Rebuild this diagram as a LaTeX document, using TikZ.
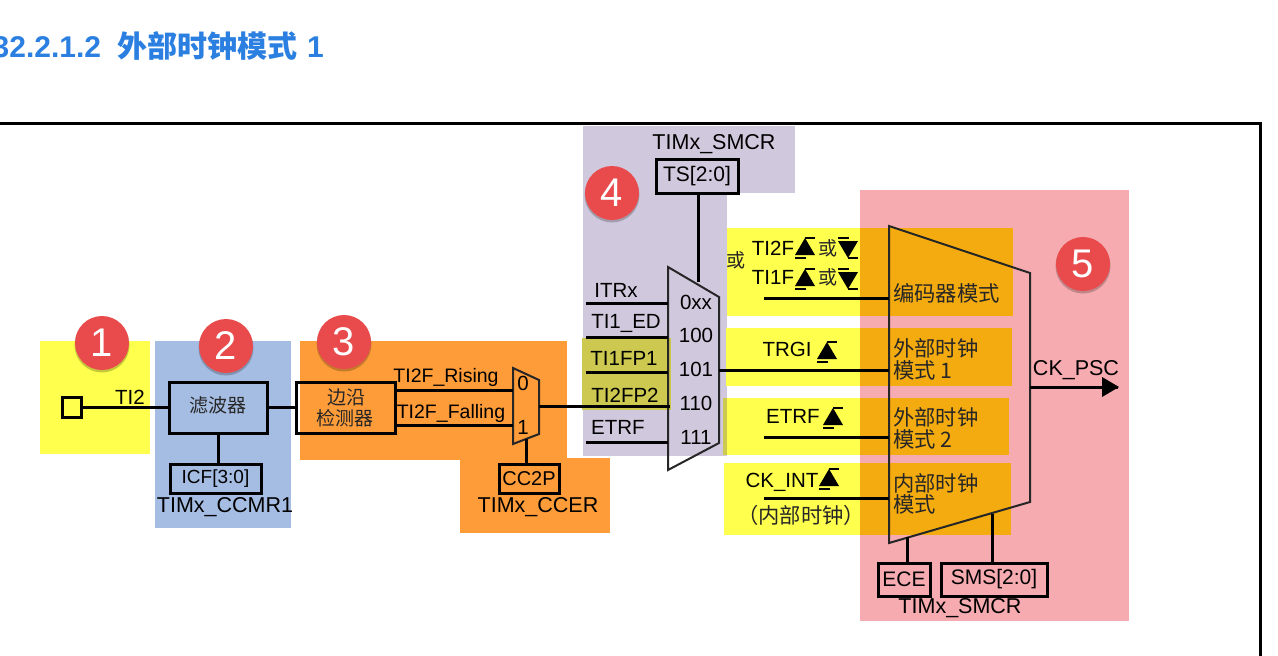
\documentclass[tikz,border=0pt]{standalone}
\usepackage{fontspec}
\setmainfont{Liberation Sans}
\newfontfamily\cjk{Noto Sans CJK SC}
\newfontfamily\cjkb{Noto Sans CJK SC Bold}
\definecolor{cyel}{HTML}{FFFF4D}
\definecolor{cblu}{HTML}{A6BDE3}
\definecolor{cora}{HTML}{FE9C3A}
\definecolor{cpur}{HTML}{D0C9DE}
\definecolor{coli}{HTML}{CDC850}
\definecolor{cpin}{HTML}{F5ABAF}
\definecolor{camb}{HTML}{F3AB10}
\definecolor{cred}{HTML}{E94A4B}
\definecolor{ctit}{HTML}{2B7FE0}
\tikzset{
  wire/.style={line width=3pt,black},
  muxline/.style={line width=2pt,black!85},
  frameline/.style={line width=3pt,black},
  regbox/.style={draw=black,line width=3pt,inner sep=0pt,font=\fontsize{21}{22}\selectfont},
  lab/.style={inner sep=0pt,font=\fontsize{21.5}{22}\selectfont},
  small/.style={inner sep=0pt,font=\fontsize{20.5}{22}\selectfont},
  zh/.style={inner sep=0pt,font=\cjk\fontsize{19}{22}\selectfont,black!85},
  zhb/.style={zh,font=\cjk\fontsize{21.3}{22}\selectfont},
  badge/.style={circle,fill=cred,minimum size=54pt,inner sep=0pt,text=white,font=\fontsize{40}{42}\selectfont},
  badgeshadow/.style={circle,fill=black,opacity=.22,minimum size=55pt,inner sep=0pt},
  rise/.pic={
    \fill (0,-10) -- (-10,7) -- (10,7) -- cycle;
    \draw[line width=2.6pt] (-10,10) -- (1,10) (0,-10) -- (10,-10);
  },
  fall/.pic={
    \fill (0,10) -- (-10,-7) -- (10,-7) -- cycle;
    \draw[line width=2.6pt] (-10,-10) -- (1,-10) (0,10) -- (10,10);
  }
}
\begin{document}
\begin{tikzpicture}[x=1pt,y=-1pt]
\useasboundingbox (0,0) rectangle (1278,656);
% title
\node[anchor=east,inner sep=0pt,text=ctit,font=\bfseries\fontsize{30}{32}\selectfont] (title) at (324,46) {32.2.1.2\hspace{16pt}{\cjkb\fontsize{30}{32}\selectfont 外部时钟模式}\hspace{10pt}1};
% frame
\draw[frameline] (0,123) -- (1260,123) -- (1260,656);
% colour regions
\fill[cyel] (40,341) rectangle (150,454);
\fill[cblu] (155,341) rectangle (291,528);
\fill[cora] (300,341) rectangle (567,460);
\fill[cora] (460,458) rectangle (610,533);
\fill[cpur] (583,126) rectangle (727,456);
\fill[cpur] (583,126) rectangle (795,193);
\fill[coli] (582,338) rectangle (671,410);
\fill[cpin] (860,190) rectangle (1129,621);
\fill[cyel] (727,228) rectangle (860,316);
\fill[camb] (860,228) rectangle (1013,316);
\fill[cyel] (726,328) rectangle (860,386);
\fill[camb] (860,328) rectangle (1012,386);
\fill[cyel] (727,398) rectangle (860,455);
\fill[coli] (723,398) rectangle (727,455);
\fill[camb] (860,398) rectangle (1009,455);
\fill[cyel] (724,463) rectangle (860,535);
\fill[camb] (860,463) rectangle (1011,535);
% boxes
\node[draw=black,line width=3pt,minimum width=19pt,minimum height=20pt,inner sep=0pt] (pin) at (71.5,407.5) {};
\node[regbox,minimum width=98pt,minimum height=51pt] (filter) at (218,407.5) {};
\node[regbox,minimum width=91pt,minimum height=29pt,font=\fontsize{19}{22}\selectfont] (icf) at (215.5,478.5) {ICF[3:0]};
\node[regbox,minimum width=99pt,minimum height=51pt] (edge) at (345.5,407.5) {};
\node[regbox,minimum width=60pt,minimum height=29pt,font=\fontsize{20}{22}\selectfont] (ccp) at (529,478.5) {CC2P};
\node[regbox,minimum width=82pt,minimum height=34pt] (ts) at (697,176) {TS[2:0]};
\node[regbox,minimum width=52pt,minimum height=33pt] (ece) at (904,579.5) {ECE};
\node[regbox,minimum width=106pt,minimum height=33pt] (sms) at (994,579.5) {SMS[2:0]};
% multiplexers
\draw[muxline] (513,368) -- (539,380) -- (539,434) -- (513,444) -- cycle;
\draw[muxline] (668,267) -- (719,297) -- (719,443) -- (668,470) -- cycle;
\draw[muxline] (889,226) -- (1030,273) -- (1030,502) -- (889,543) -- cycle;
% named connector ends
\coordinate (sa) at (513,390); \coordinate (sb) at (513,425);
\coordinate (ea) at (395,390); \coordinate (eb) at (395,425);
\coordinate (so) at (539,406); \coordinate (sbot) at (526,439);
\coordinate (i3) at (670,406);
\coordinate (mtop) at (698,282);
\coordinate (a0) at (586,303); \coordinate (b0) at (668,303);
\coordinate (a1) at (586,337); \coordinate (b1) at (668,337);
\coordinate (a2) at (586,372); \coordinate (b2) at (668,372);
\coordinate (a4) at (586,442); \coordinate (b4) at (668,442);
\coordinate (mo) at (719,370); \coordinate (bm) at (889,370);
\coordinate (enc0) at (764,298); \coordinate (enc1) at (889,298);
\coordinate (etr0) at (764,437); \coordinate (etr1) at (889,437);
\coordinate (cki0) at (764,498); \coordinate (cki1) at (889,498);
\coordinate (bo) at (1030,387); \coordinate (bout) at (1118,387);
\coordinate (bb1) at (907,537); \coordinate (bb2) at (992,514);
% connectors
\draw[wire] (pin.east) -- (filter.west);
\draw[wire] (filter.east) -- (edge.west);
\draw[wire] (filter.south) -- (icf.north -| filter.south);
\draw[wire] (ea) -- (sa);
\draw[wire] (eb) -- (sb);
\draw[wire] (so) -- (i3);
\draw[wire] (sbot) -- (sbot |- ccp.north);
\draw[wire] (ts.south -| mtop) -- (mtop);
\draw[wire] (a0) -- (b0);
\draw[wire] (a1) -- (b1);
\draw[wire] (a2) -- (b2);
\draw[wire] (a4) -- (b4);
\draw[wire] (mo) -- (bm);
\draw[wire] (enc0) -- (enc1);
\draw[wire] (etr0) -- (etr1);
\draw[wire] (cki0) -- (cki1);
\draw[wire] (bb1) -- (bb1 |- ece.north);
\draw[wire] (bb2) -- (bb2 |- sms.north);
\draw[wire] (bo) -- (bout);
\fill (1102,377) -- (1119,387) -- (1102,397) -- cycle;
% labels
\node[small] (t1) at (130,397) {TI2};
\node[lab] (t2) at (225,507) {TIMx\_CCMR1};
\node[zh] (t3) at (218,405) {滤波器};
\node[zh] (t4) at (346,397) {边沿};
\node[zh] (t5) at (345,418) {检测器};
\node[small,font=\fontsize{19.5}{22}\selectfont] (t6) at (446,377) {TI2F\_Rising};
\node[small,font=\fontsize{19.5}{22}\selectfont] (t7) at (451,413) {TI2F\_Falling};
\node[small] (t8) at (523,383) {0};
\node[small] (t9) at (523,427) {1};
\node[lab] (t10) at (538,507) {TIMx\_CCER};
\node[lab] (t11) at (714,144) {TIMx\_SMCR};
\node[small] (t12) at (616,290) {ITRx};
\node[small] (t13) at (626,323) {TI1\_ED};
\node[small] (t14) at (624,358) {TI1FP1};
\node[small] (t15) at (625,395) {TI2FP2};
\node[small] (t16) at (618,427) {ETRF};
\node[small] (t17) at (696,302) {0xx};
\node[small] (t18) at (696,335) {100};
\node[small] (t19) at (696,369) {101};
\node[small] (t20) at (696,403) {110};
\node[small] (t21) at (696,437) {111};
\node[zh] (t22) at (736,260) {或};
\node[small] (t23) at (773,248) {TI2F};
\node[zh] (t24) at (828,248) {或};
\node[small] (t25) at (773,277) {TI1F};
\node[zh] (t26) at (828,277) {或};
\pic at (805,248) {rise};
\pic at (848,248) {fall};
\pic at (805,279) {rise};
\pic at (848,279) {fall};
\node[zhb,anchor=west] (t27) at (893,293) {编码器模式};
\node[small] (t28) at (787,349) {TRGI};
\pic at (827,352) {rise};
\node[zhb,anchor=west] (t29) at (893,348) {外部时钟};
\node[zhb,anchor=west] (t30) at (893,370) {模式 1};
\node[small] (t31) at (793,416) {ETRF};
\pic at (833,418) {rise};
\node[zhb,anchor=west] (t32) at (893,417) {外部时钟};
\node[zhb,anchor=west] (t33) at (893,439) {模式 2};
\node[small] (t34) at (782,482) {CK\_INT};
\pic at (829,479) {rise};
\node[zhb,anchor=west] (t35) at (893,483) {内部时钟};
\node[zhb,anchor=west] (t36) at (893,504) {模式};
\node[zhb] (t37) at (801,515) {（内部时钟）};
\node[lab] (t38) at (960,608) {TIMx\_SMCR};
\node[lab] (t39) at (1076,370) {CK\_PSC};
% badges
\node[badgeshadow] (s1) at (102,345) {};
\node[badgeshadow] (s2) at (226,348) {};
\node[badgeshadow] (s3) at (344,344) {};
\node[badgeshadow] (s4) at (612,195) {};
\node[badgeshadow] (s5) at (1083,266) {};
\node[badge] (n1) at (102,343) {1};
\node[badge] (n2) at (226,346) {2};
\node[badge] (n3) at (344,342) {3};
\node[badge] (n4) at (612,193) {4};
\node[badge] (n5) at (1083,264) {5};
\end{tikzpicture}
\end{document}
